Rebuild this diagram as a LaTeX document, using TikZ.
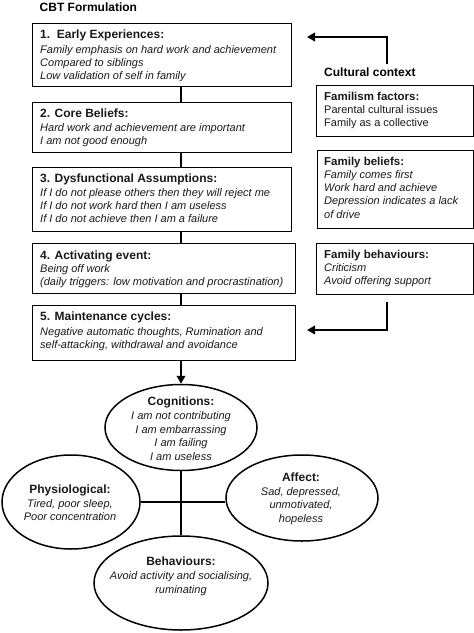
\documentclass[tikz,border=0pt]{standalone}
\usepackage{fontspec}
\setmainfont{Liberation Sans}
\usetikzlibrary{shapes.geometric,arrows.meta}
\tikzset{
  box/.style={draw=black, line width=1.4pt, inner sep=0pt, anchor=north west},
  txt/.style={anchor=north west, inner sep=0pt, align=left, text=black!90, font=\fontsize{11}{13.3}\selectfont},
  ctxt/.style={anchor=north, inner sep=0pt, align=center, text=black!90, font=\fontsize{11}{13.5}\selectfont},
  oval/.style={draw=black, line width=1.5pt, ellipse, inner sep=0pt},
  conn/.style={draw=black, line width=2.6pt},
  arr/.style={draw=black, line width=2.4pt, -{Triangle[length=8pt,width=8.5pt]}},
}
\newcommand{\hd}[1]{{\bfseries\fontsize{12}{13.3}\selectfont #1}}
\newcommand{\hds}[1]{{\bfseries\fontsize{11.5}{13.3}\selectfont #1}}
\begin{document}
\begin{tikzpicture}[x=1pt,y=-1pt]
\useasboundingbox (0,0) rectangle (474,633);

% title
\node[anchor=base west, inner sep=0pt, font=\bfseries\fontsize{12}{14}\selectfont] (title) at (39.5,11) {CBT Formulation};

% main boxes
\node[box, minimum width=259pt, minimum height=63pt] (b1) at (32,23) {};
\node[box, minimum width=259pt, minimum height=50pt] (b2) at (32,102) {};
\node[box, minimum width=259pt, minimum height=64pt] (b3) at (32,167) {};
\node[box, minimum width=263pt, minimum height=50pt] (b4) at (32,243) {};
\node[box, minimum width=263pt, minimum height=55pt] (b5) at (32,305) {};

\node[txt] (t1) at (40,29.5) {\hd{1.\ \ Early Experiences:}\\[1.5pt]
  \itshape Family emphasis on hard work and achievement\\
  \itshape Compared to siblings\\
  \itshape Low validation of self in family};
\node[txt] (t2) at (40,108.4) {\hd{2. Core Beliefs:}\\[0.5pt]
  \itshape Hard work and achievement are important\\
  \itshape I am not good enough};
\node[txt] (t3) at (40,173.4) {\hd{3. Dysfunctional Assumptions:}\\[0.7pt]
  \itshape If I do not please others then they will reject me\\
  \itshape If I do not work hard then I am useless\\
  \itshape If I do not achieve then I am a failure};
\node[txt] (t4) at (40,250.4) {\hd{4. Activating event:}\\[-0.5pt]
  \itshape Being off work\\
  \itshape (daily triggers: low motivation and procrastination)};
\node[txt] (t5) at (40,311.4) {\hd{5. Maintenance cycles:}\\[1.5pt]
  \itshape Negative automatic thoughts, Rumination and\\
  \itshape self-attacking, withdrawal and avoidance};

% cultural context
\node[anchor=base west, inner sep=0pt, font=\bfseries\fontsize{12}{14}\selectfont] (cc) at (324,76) {Cultural context};
\node[box, minimum width=156.5pt, minimum height=51pt] (f1) at (316,85) {};
\node[box, minimum width=155.5pt, minimum height=78pt] (f2) at (317,150) {};
\node[box, minimum width=156.5pt, minimum height=51pt] (f3) at (316,243) {};

\node[txt] (r1) at (324,91.6) {\hds{Familism factors:}\\[-0.3pt]
  Parental cultural issues\\
  Family as a collective};
\node[txt] (r2) at (324,156.6) {\hds{Family beliefs:}\\[-0.3pt]
  \itshape Family comes first\\
  \itshape Work hard and achieve\\
  \itshape Depression indicates a lack\\
  \itshape of drive};
\node[txt] (r3) at (324,249.9) {\hds{Family behaviours:}\\[-0.6pt]
  \itshape Criticism\\
  \itshape Avoid offering support};

% connectors between main boxes
\coordinate (cx) at (181,0);
\draw[conn] (b1.south -| cx) -- (b2.north -| cx);
\draw[conn] (b2.south -| cx) -- (b3.north -| cx);
\draw[conn] (b3.south -| cx) -- (b4.north -| cx);
\draw[conn] (b4.south -| cx) -- (b5.north -| cx);

% cultural arrows
\coordinate (tipa) at (307,37);
\coordinate (starta) at (387,64);
\draw[arr] (starta) |- (tipa);
\coordinate (startb) at (387,302);
\coordinate (tipb) at (307,330);
\draw[arr] (startb) |- (tipb);

% ellipses
\node[oval, minimum width=152pt, minimum height=86pt] (cog) at (181,427.5) {};
\node[oval, minimum width=138pt, minimum height=94pt] (phy) at (71,502) {};
\node[oval, minimum width=152pt, minimum height=86pt] (aff) at (302,498) {};
\node[oval, minimum width=174pt, minimum height=94pt] (beh) at (181,583) {};

\draw[arr] (b5.south -| cx) -- (cog.north);
\draw[conn, line width=2pt] (cog.south) -- (beh.north);
\draw[conn, line width=2pt] (phy.east) -- (phy.east -| aff.west);

\node[ctxt] (ct) at (181,396.4) {\hd{Cognitions:}\\[1pt]
  \itshape I am not contributing\\
  \itshape I am embarrassing\\
  \itshape I am failing\\
  \itshape I am useless};
\node[ctxt] (pt) at (70,484.1) {\hd{Physiological:}\\[0.8pt]
  \itshape Tired, poor sleep,\\
  \itshape Poor concentration};
\node[ctxt] (at) at (301,472.1) {\hd{Affect:}\\[0.8pt]
  \itshape Sad, depressed,\\
  \itshape unmotivated,\\
  \itshape hopeless};
\node[ctxt] (bt) at (181,556.4) {\hd{Behaviours:}\\[0.8pt]
  \itshape Avoid activity and socialising,\\
  \itshape ruminating};
\end{tikzpicture}
\end{document}
